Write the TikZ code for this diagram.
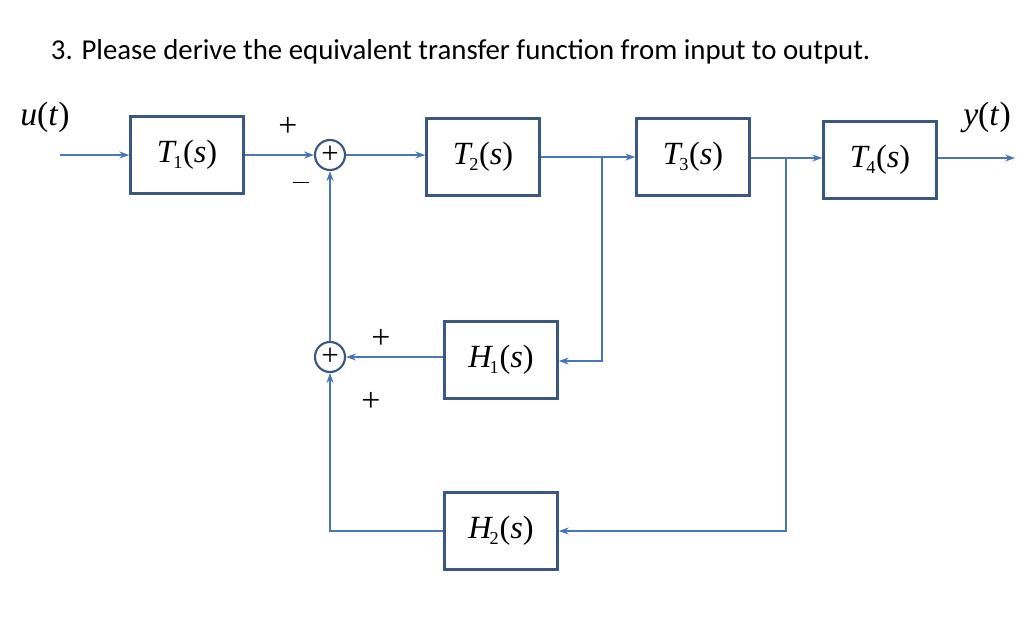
\documentclass[tikz,border=0pt]{standalone}
\usepackage{fontspec}
\newfontfamily\titlefont{Carlito}
\setmainfont{Liberation Serif}
\usetikzlibrary{arrows.meta}
\definecolor{ln}{HTML}{4A76B8}
\definecolor{bx}{HTML}{3A5780}
\newcommand{\tf}[2]{\textit{#1}\textsubscript{\kern-0.15em\fontsize{13}{14}\selectfont\upshape #2}(\textit{s})}
\begin{document}
\begin{tikzpicture}[x=0.025cm,y=-0.025cm,
  blk/.style={draw=bx,line width=1.8pt,minimum width=113*0.025cm,minimum height=77*0.025cm,inner sep=0pt,font=\fontsize{23}{25}\selectfont},
  sumc/.style={draw=bx,line width=1.5pt,circle,minimum size=30*0.025cm,inner sep=0pt,font=\fontsize{22}{24}\selectfont},
  sig/.style={draw=ln,line width=1.8pt,-{Stealth[length=7pt,width=5pt]}},
  lab/.style={font=\fontsize{24}{26}\selectfont}]
\useasboundingbox (0,0) rectangle (1024,632);
\node[anchor=west,font=\titlefont\fontsize{20.5}{24}\selectfont] (title) at (46,52) {3. Please derive the equivalent transfer function from input to output.};
\node[lab] (u) at (45,117) {\textit{u}(\textit{t})};
\node[lab] (y) at (987,117) {\textit{y}(\textit{t})};
\node[blk] (T1) at (187,155) {\tf{T}{1}};
\node[blk] (T2) at (483,157) {\tf{T}{2}};
\node[blk] (T3) at (693,157) {\tf{T}{3}};
\node[blk] (T4) at (880,160) {\tf{T}{4}};
\node[blk] (H1) at (501,360) {\tf{H}{1}};
\node[blk] (H2) at (501,531) {\tf{H}{2}};
\node[sumc] (s1) at (330,155) {+};
\node[sumc] (s2) at (330,357) {+};
\node[lab] (p1) at (288,127) {+};
\node[lab] (m1) at (301,185) {\rule[0.3ex]{0.5em}{1pt}};
\node[lab] (p2) at (381,339) {+};
\node[lab] (p3) at (371,402) {+};
\coordinate (in) at (60,155);
\coordinate (out) at (1015,158);
\coordinate (b1) at (602,157);
\coordinate (b1d) at (602,361);
\coordinate (b2) at (786,158);
\coordinate (b2d) at (786,531);
\coordinate (c2) at (330,531);
\draw[sig] (in) -- (T1.west);
\draw[sig] (T1.east) -- (s1.west);
\draw[sig] (s1.east) -- (s1.east -| T2.west);
\draw[sig] (T2.east) -- (T3.west);
\draw[sig] (T3.east |- b2) -- (b2 -| T4.west);
\draw[sig] (T4.east |- out) -- (out);
\draw[sig] (b1) -- (b1d) -- (b1d -| H1.east);
\draw[sig] (b2) -- (b2d) -- (H2.east);
\draw[sig] (s2.east -| H1.west) -- (s2.east);
\draw[sig] (H2.west) -- (c2) -- (s2.south);
\draw[sig] (s2.north) -- (s1.south);
\end{tikzpicture}
\end{document}
